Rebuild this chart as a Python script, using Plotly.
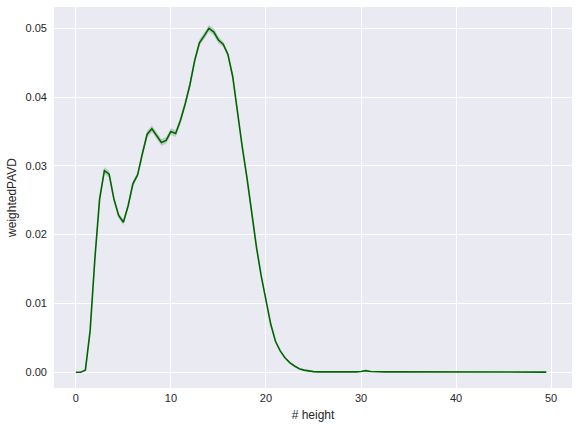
import plotly.graph_objects as go

heights = [0.0, 0.5, 1.0, 1.5, 2.0, 2.5, 3.0, 3.5, 4.0, 4.5,
           5.0, 5.5, 6.0, 6.5, 7.0, 7.5, 8.0, 8.5, 9.0, 9.5,
           10.0, 10.5, 11.0, 11.5, 12.0, 12.5, 13.0, 13.5, 14.0, 14.5,
           15.0, 15.5, 16.0, 16.5, 17.0, 17.5, 18.0, 18.5, 19.0, 19.5,
           20.0, 20.5, 21.0, 21.5, 22.0, 22.5, 23.0, 23.5, 24.0, 24.5,
           25.0, 25.5, 26.0, 26.5, 27.0, 27.5, 28.0, 28.5, 29.0, 29.5,
           30.0, 30.5, 31.0, 31.5, 32.0, 32.5, 33.0, 33.5, 34.0, 34.5,
           35.0, 35.5, 36.0, 36.5, 37.0, 37.5, 38.0, 38.5, 39.0, 39.5,
           40.0, 40.5, 41.0, 41.5, 42.0, 42.5, 43.0, 43.5, 44.0, 44.5,
           45.0, 45.5, 46.0, 46.5, 47.0, 47.5, 48.0, 48.5, 49.0, 49.5]

pavd = [0.0000, 0.0000, 0.0003, 0.0060, 0.0165, 0.0252, 0.0293, 0.0288, 0.0252, 0.0228,
        0.0218, 0.0242, 0.0274, 0.0287, 0.0318, 0.0346, 0.0354, 0.0344, 0.0334, 0.0337,
        0.0350, 0.0347, 0.0366, 0.0390, 0.0418, 0.0453, 0.0479, 0.0489, 0.0500, 0.0495,
        0.0483, 0.0477, 0.0462, 0.0430, 0.0375, 0.0328, 0.0283, 0.0230, 0.0182, 0.0140,
        0.0105, 0.0070, 0.0045, 0.0031, 0.0021, 0.0014, 0.0009, 0.0005, 0.0003, 0.00015,
        0.00008, 0.00005, 0.00004, 0.00004, 0.00004, 0.00004, 0.00004, 0.00004, 0.00004, 0.00005,
        0.00010, 0.00022, 0.00010, 0.00005, 0.00004, 0.00004, 0.00004, 0.00004, 0.00003, 0.00003,
        0.00003, 0.00003, 0.00003, 0.00003, 0.00003, 0.00003, 0.00002, 0.00002, 0.00002, 0.00002,
        0.00002, 0.00002, 0.00001, 0.00001, 0.00001, 0.00001, 0.00001, 0.00001, 0.00001, 0.00001,
        0.00001, 0.00001, 0.00001, 0.00001, 0.00001, 0.00001, 0.00001, 0.00001, 0.00001, 0.00001]

ci_half = [0.00002, 0.00002, 0.0001, 0.0003, 0.0004, 0.0005, 0.0005, 0.0005, 0.0004, 0.0004,
           0.0004, 0.0004, 0.0004, 0.0004, 0.0004, 0.0005, 0.0005, 0.0005, 0.0005, 0.0005,
           0.0005, 0.0005, 0.0005, 0.0005, 0.0005, 0.0005, 0.0005, 0.0005, 0.0005, 0.0005,
           0.0005, 0.0004, 0.0004, 0.0004, 0.0004, 0.0003, 0.0003, 0.0003, 0.0003, 0.0002,
           0.0002, 0.0002, 0.0001, 0.0001, 0.0001, 0.0001, 0.00005, 0.00005, 0.00003, 0.00002,
           0.00002, 0.00002, 0.00002, 0.00002, 0.00002, 0.00002, 0.00002, 0.00002, 0.00002, 0.00002,
           0.00003, 0.00004, 0.00003, 0.00002, 0.00002, 0.00002, 0.00002, 0.00002, 0.00001, 0.00001,
           0.00001, 0.00001, 0.00001, 0.00001, 0.00001, 0.00001, 0.00001, 0.00001, 0.00001, 0.00001,
           0.00001, 0.00001, 0.00001, 0.00001, 0.00001, 0.00001, 0.00001, 0.00001, 0.00001, 0.00001,
           0.00001, 0.00001, 0.00001, 0.00001, 0.00001, 0.00001, 0.00001, 0.00001, 0.00001, 0.00001]

x_ticks = [0, 10, 20, 30, 40, 50]
y_ticks = [0.00, 0.01, 0.02, 0.03, 0.04, 0.05]

upper = [v + c for v, c in zip(pavd, ci_half)]
lower = [v - c for v, c in zip(pavd, ci_half)]

fig = go.Figure()
fig.add_trace(go.Scatter(x=heights + heights[::-1], y=upper + lower[::-1],
                         fill="toself", fillcolor="rgba(0,100,0,0.2)",
                         line=dict(width=0), hoverinfo="skip", showlegend=False))
fig.add_trace(go.Scatter(x=heights, y=pavd, mode="lines",
                         line=dict(color="#006400", width=1.6), showlegend=False))

font_family = "Liberation Sans, Arial, sans-serif"
fig.update_layout(
    width=576, height=430,
    margin=dict(l=54, r=4, t=7, b=42, autoexpand=False),
    paper_bgcolor="white", plot_bgcolor="#EAEAF2",
    font=dict(family=font_family, size=11, color="#262626"),
    xaxis=dict(range=[-2.3, 52.2], tickvals=x_ticks,
               ticktext=[str(t) for t in x_ticks],
               showgrid=True, gridcolor="white", gridwidth=1,
               zeroline=False, showline=False, ticks="",
               ticklabelstandoff=2, automargin=False,
               title=dict(text="# height", font=dict(size=12), standoff=7)),
    yaxis=dict(range=[-0.0023, 0.0531], tickvals=y_ticks,
               ticktext=["%.2f" % t for t in y_ticks],
               showgrid=True, gridcolor="white", gridwidth=1,
               zeroline=False, showline=False, ticks="",
               ticklabelstandoff=6, automargin=False,
               title=dict(text="weightedPAVD", font=dict(size=12), standoff=6)),
)

fig.write_html("out.html", config={"displayModeBar": False},
               post_script="document.body.style.margin='0px';document.body.style.overflow='hidden';")
